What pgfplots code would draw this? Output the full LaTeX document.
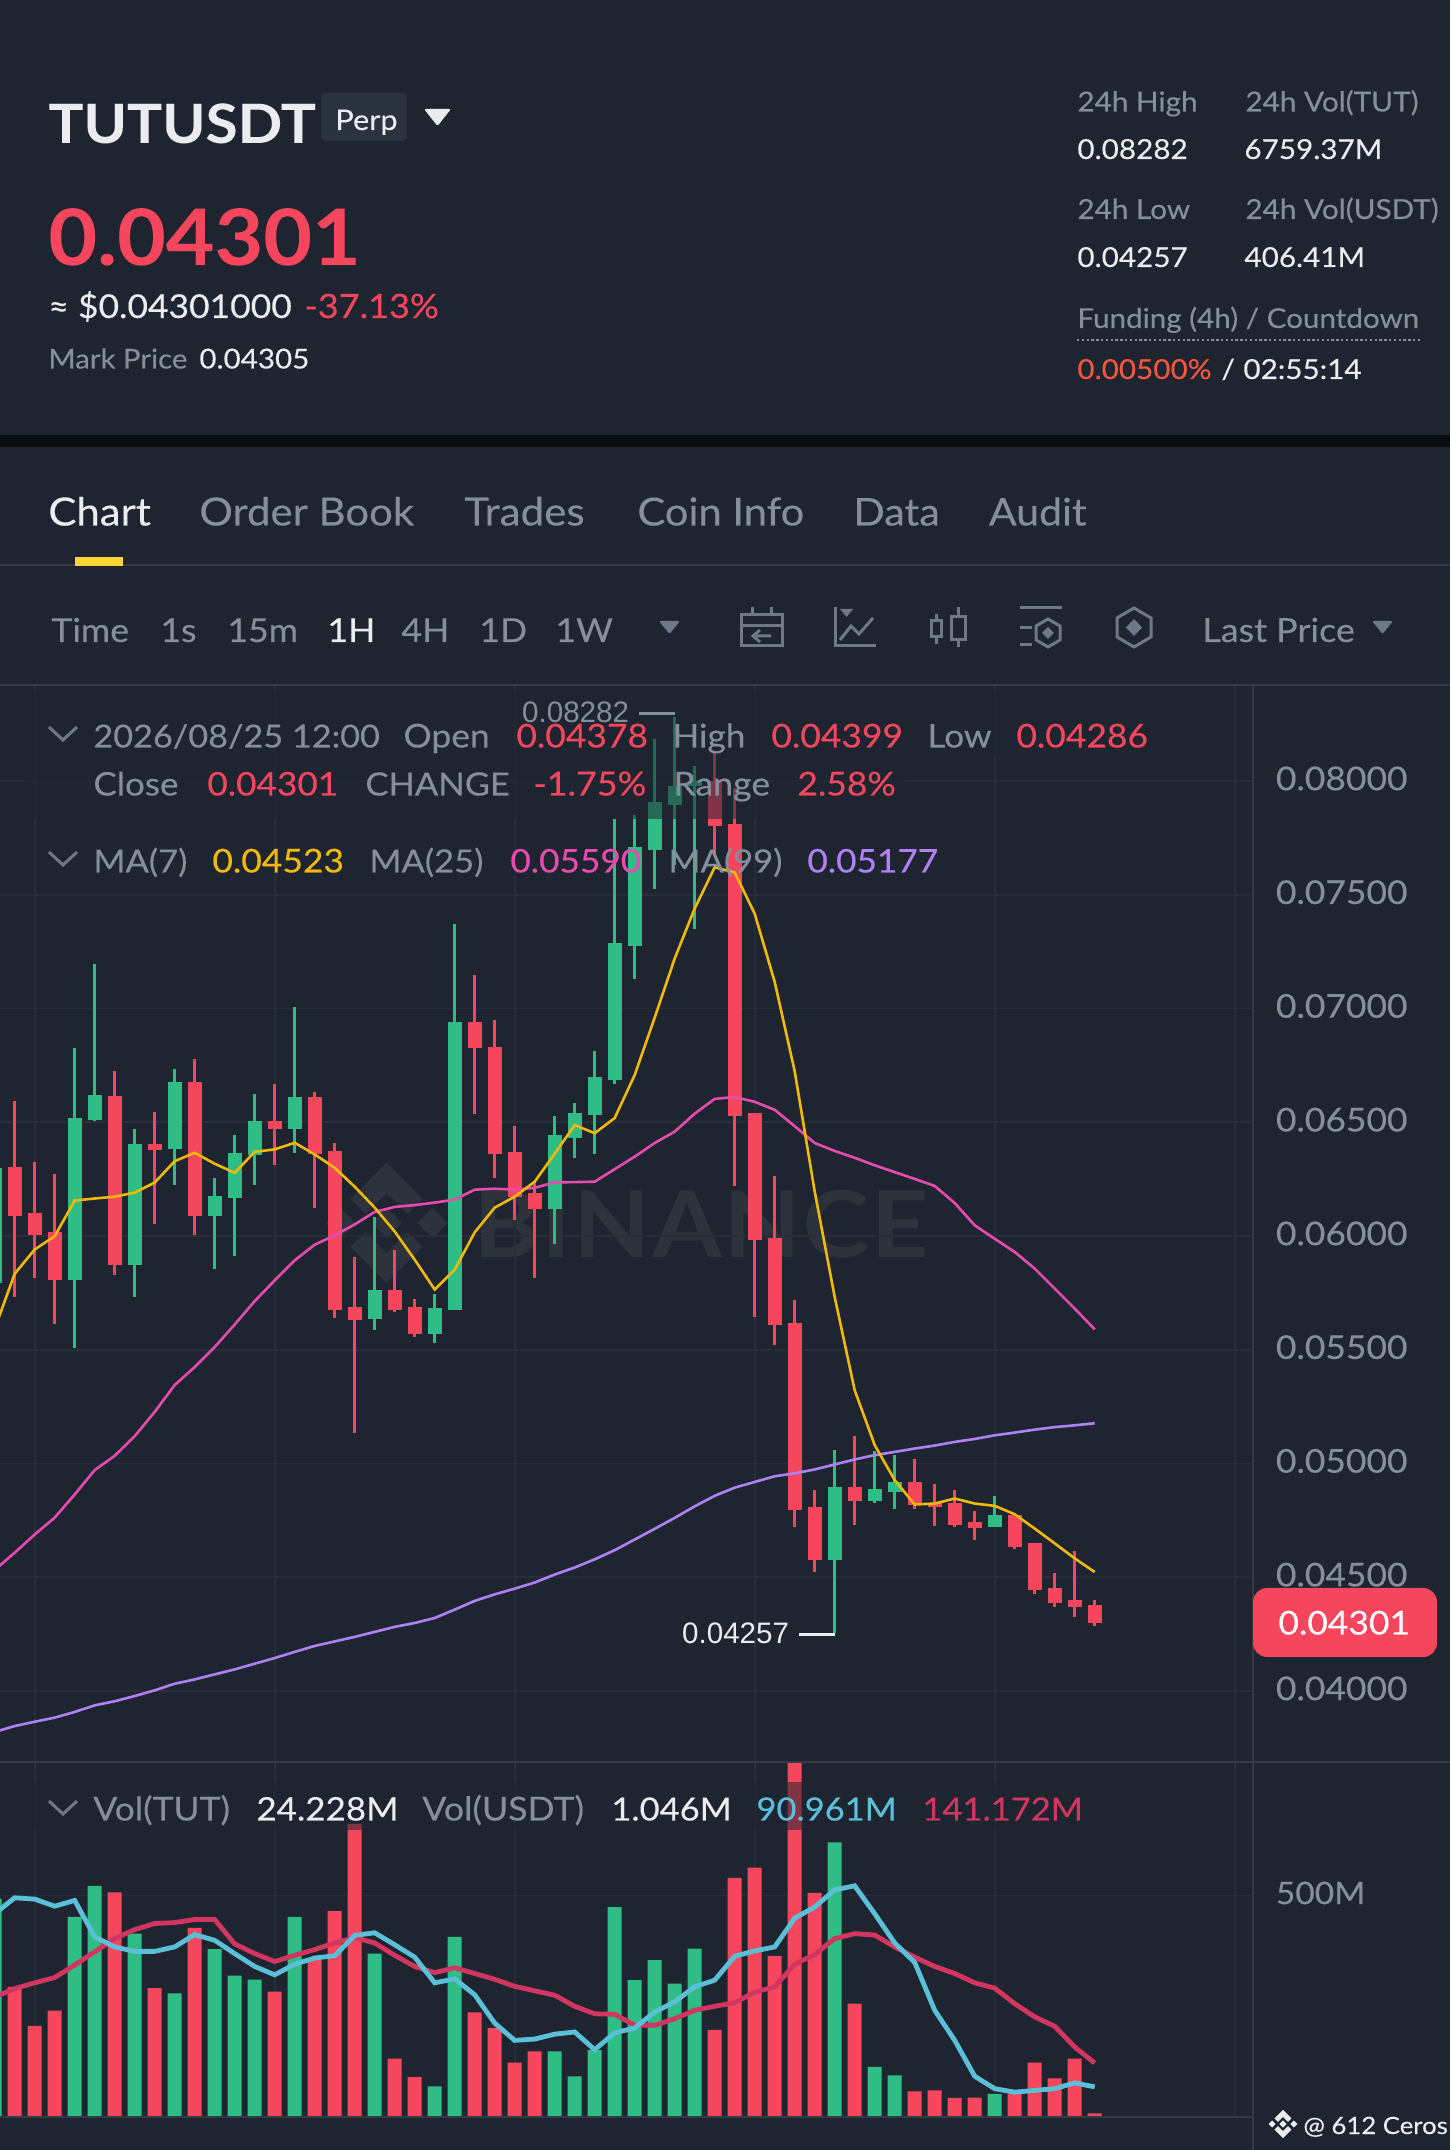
\documentclass[border=0pt]{standalone}
\usepackage{fontspec}
\usepackage{pgfplots}
\usepackage{pgfplotstable}
\pgfplotsset{compat=1.18}
\setmainfont{Lato}[FakeStretch=1.08,FakeBold=0.25,BoldFeatures={FakeBold=0.01}]
\newfontfamily\arialf{Liberation Sans}
\definecolor{bg}{HTML}{1E2530}
\definecolor{gridc}{HTML}{282E39}
\definecolor{linec}{HTML}{343A46}
\definecolor{cred}{HTML}{F6465D}
\definecolor{cgreen}{HTML}{2EBD85}
\definecolor{cgrey}{HTML}{848E9C}
\definecolor{cwhite}{HTML}{EAECEF}
\definecolor{mayel}{HTML}{F0B90B}
\definecolor{mapink}{HTML}{E84BAF}
\definecolor{mapur}{HTML}{B080F5}
\definecolor{volblue}{HTML}{5BBFD8}
\definecolor{volpink}{HTML}{D2355F}
\definecolor{wm}{HTML}{2D323D}
\definecolor{iconc}{HTML}{6F7888}
\definecolor{sepc}{HTML}{0B0E11}
\definecolor{tagc}{HTML}{2B3240}
\definecolor{fund}{HTML}{F6563A}
\definecolor{goldc}{HTML}{FCD535}

\pgfplotstableread{
k H L T B
0 0.06595 0.05732 0.06305 0.06088
1 0.06327 0.05815 0.06101 0.06005
2 0.06272 0.05614 0.06016 0.05808
5 0.06727 0.05830 0.06617 0.05872
7 0.06545 0.06053 0.06403 0.06377
9 0.06779 0.06005 0.06679 0.06088
13 0.06670 0.06313 0.06506 0.06471
15 0.06635 0.06125 0.06611 0.06362
16 0.06410 0.05640 0.06372 0.05673
17 0.05907 0.05135 0.05686 0.05633
19 0.05937 0.05664 0.05762 0.05677
20 0.05725 0.05557 0.05688 0.05568
23 0.07149 0.06536 0.06939 0.06825
24 0.06948 0.06257 0.06832 0.06362
25 0.06485 0.06071 0.06370 0.06173
26 0.06240 0.05817 0.06190 0.06119
35 0.08122 0.07676 0.07999 0.07801
36 0.07968 0.06220 0.07812 0.06527
37 0.06540 0.05644 0.06540 0.05981
38 0.06263 0.05520 0.05992 0.05608
39 0.05720 0.04722 0.05619 0.04795
40 0.04883 0.04524 0.04808 0.04575
42 0.05120 0.04729 0.04897 0.04835
45 0.05022 0.04802 0.04919 0.04817
46 0.04909 0.04726 0.04827 0.04807
47 0.04883 0.04722 0.04827 0.04729
48 0.04791 0.04663 0.04744 0.04717
50 0.04780 0.04624 0.04773 0.04635
51 0.04652 0.04428 0.04649 0.04442
52 0.04517 0.04370 0.04455 0.04385
53 0.04615 0.04326 0.04398 0.04370
54 0.04399 0.04286 0.04378 0.04301
}\redc
\pgfplotstableread{
k H L T B
-1 0.06300 0.05793 0.06300 0.05793
3 0.06827 0.05507 0.06519 0.05808
4 0.07197 0.06504 0.06622 0.06508
6 0.06471 0.05732 0.06403 0.05872
8 0.06735 0.06224 0.06679 0.06381
10 0.06257 0.05856 0.06176 0.06090
11 0.06445 0.05911 0.06364 0.06167
12 0.06626 0.06226 0.06504 0.06355
14 0.07009 0.06366 0.06611 0.06471
18 0.06082 0.05585 0.05762 0.05636
21 0.05747 0.05531 0.05684 0.05568
22 0.07372 0.05673 0.06939 0.05673
27 0.06527 0.05964 0.06444 0.06118
28 0.06585 0.06343 0.06540 0.06433
29 0.06815 0.06359 0.06697 0.06530
30 0.07834 0.06669 0.07286 0.06688
31 0.07849 0.07132 0.07708 0.07273
32 0.08183 0.07525 0.07908 0.07697
33 0.08282 0.07629 0.07980 0.07894
34 0.08067 0.07349 0.07999 0.07979
41 0.05059 0.04257 0.04897 0.04575
43 0.05056 0.04827 0.04890 0.04835
44 0.05037 0.04799 0.04921 0.04877
49 0.04856 0.04722 0.04773 0.04723
}\greenc
\pgfplotstableread{
k y
-1 0.05592
0 0.05834
1 0.05941
2 0.05999
3 0.06156
4 0.06165
5 0.06173
6 0.06191
7 0.06235
8 0.06329
9 0.06366
10 0.06318
11 0.06278
12 0.06370
13 0.06381
14 0.06410
15 0.06359
16 0.06300
17 0.06217
18 0.06125
19 0.06020
20 0.05896
21 0.05765
22 0.05852
23 0.06016
24 0.06125
25 0.06173
26 0.06239
27 0.06362
28 0.06488
29 0.06452
30 0.06519
31 0.06708
32 0.06960
33 0.07220
34 0.07440
35 0.07621
36 0.07598
37 0.07417
38 0.07117
39 0.06724
40 0.06196
41 0.05732
42 0.05322
43 0.05081
44 0.04927
45 0.04820
46 0.04824
47 0.04846
48 0.04824
49 0.04814
50 0.04777
51 0.04714
52 0.04649
53 0.04583
54 0.04523
}\masev
\pgfplotstableread{
k y
-1 0.04532
0 0.04608
1 0.04688
2 0.04762
3 0.04864
4 0.04971
5 0.05034
6 0.05120
7 0.05227
8 0.05345
9 0.05424
10 0.05512
11 0.05611
12 0.05714
13 0.05805
14 0.05893
15 0.05962
16 0.06003
17 0.06051
18 0.06106
19 0.06128
20 0.06136
21 0.06147
22 0.06160
23 0.06204
24 0.06208
25 0.06204
26 0.06212
27 0.06236
28 0.06237
29 0.06239
30 0.06294
31 0.06349
32 0.06409
33 0.06459
34 0.06538
35 0.06603
36 0.06611
37 0.06590
38 0.06555
39 0.06483
40 0.06409
41 0.06374
42 0.06344
43 0.06311
44 0.06281
45 0.06251
46 0.06220
47 0.06145
48 0.06047
49 0.05988
50 0.05930
51 0.05857
52 0.05769
53 0.05681
54 0.05590
}\matwf
\pgfplotstableread{
k y
-1 0.03820
0 0.03846
1 0.03865
2 0.03883
3 0.03908
4 0.03937
5 0.03955
6 0.03978
7 0.04003
8 0.04032
9 0.04051
10 0.04073
11 0.04095
12 0.04120
13 0.04145
14 0.04172
15 0.04198
16 0.04218
17 0.04238
18 0.04260
19 0.04282
20 0.04299
21 0.04321
22 0.04358
23 0.04396
24 0.04425
25 0.04450
26 0.04477
27 0.04512
28 0.04543
29 0.04579
30 0.04619
31 0.04666
32 0.04713
33 0.04761
34 0.04812
35 0.04858
36 0.04894
37 0.04919
38 0.04944
39 0.04957
40 0.04974
41 0.04996
42 0.05018
43 0.05037
44 0.05051
45 0.05066
46 0.05079
47 0.05095
48 0.05108
49 0.05124
50 0.05136
51 0.05149
52 0.05160
53 0.05168
54 0.05177
}\manin
\pgfplotstableread{
k v
0 294
1 206
2 240
5 507
7 291
9 427
13 283
15 354
16 465
17 662
19 132
20 90
23 236
24 201
25 123
26 148
35 197
36 540
37 563
38 364
39 800
40 506
42 256
45 58
46 60
47 43
48 44
50 53
51 123
52 87
53 132
54 8
}\volred
\pgfplotstableread{
k v
-1 493
3 452
4 522
6 414
8 279
10 379
11 319
12 310
14 452
18 369
21 69
22 407
27 148
28 92
29 151
30 474
31 309
32 354
33 301
34 380
41 620
43 113
44 94
49 52
}\volgreen
\pgfplotstableread{
k a b
-1 459 271
0 495 290
1 492 303
2 476 315
3 489 343
4 407 373
5 384 403
6 374 423
7 374 437
8 384 439
9 412 446
10 399 446
11 369 391
12 340 369
13 321 351
14 345 365
15 359 378
16 364 393
17 410 405
18 416 393
19 389 365
20 361 340
21 303 326
22 312 337
23 276 324
24 212 311
25 173 295
26 176 285
27 187 275
28 192 250
29 152 233
30 190 232
31 201 207
32 237 207
33 260 222
34 294 241
35 309 250
36 363 258
37 375 282
38 384 294
39 449 345
40 474 367
41 513 403
42 522 414
43 459 411
44 393 384
45 349 361
46 241 340
47 173 324
48 92 303
49 64 291
50 56 256
51 60 226
52 64 205
53 77 158
54 68 122
}\volma

% baseline text: x y size colour text (px units)
\newcommand\T[5]{\node[anchor=base west,inner sep=0pt,text=#4,font=\fontsize{#3}{#3}\selectfont] at (#1,#2) {#5};}
\newcommand\TB[5]{\node[anchor=base west,inner sep=0pt,text=#4,font=\fontsize{#3}{#3}\selectfont\bfseries] at (#1,#2) {#5};}
\newcommand\TA[5]{\node[anchor=base west,inner sep=0pt,text=#4,font=\arialf\fontsize{#3}{#3}\selectfont] at (#1,#2) {#5};}
\newcommand\binlogo[4]{%
\begin{scope}[shift={(#1,#2)},x=#3*0.5pt,y=-#3*0.5pt]
\fill[#4] (0,-60)--(36,-24)--(21,-9)--(0,-30)--(-21,-9)--(-36,-24)--cycle;
\fill[#4] (0,60)--(36,24)--(21,9)--(0,30)--(-21,9)--(-36,24)--cycle;
\fill[#4] (0,-15)--(15,0)--(0,15)--(-15,0)--cycle;
\fill[#4] (46,-15)--(61,0)--(46,15)--(31,0)--cycle;
\fill[#4] (-46,-15)--(-31,0)--(-46,15)--(-61,0)--cycle;
\end{scope}}

\pgfplotsset{common/.style={
  scale only axis, width=626.25pt,
  xmin=-0.7335, xmax=61.89,
  xtick={1,13,25,37,49,61}, xticklabels={},
  axis line style={draw=none}, major tick length=0pt,
  grid=major, grid style={draw=gridc,line width=0.9pt},
  clip=true,
  yticklabel pos=right,
  every y tick label/.append style={text=cgrey,font=\fontsize{16.4}{16.4}\selectfont,inner sep=0pt,anchor=west,xshift=11.5pt,yshift=1.3pt},
}}

\begin{document}
\begin{tikzpicture}
\fill[bg] (0,0) rectangle (725pt,1075pt);
\useasboundingbox (0,0) rectangle (725pt,1075pt);
\begin{scope}[x=0.5pt,y=-0.5pt,yshift=1075pt]
\fill[sepc] (0,435) rectangle (1450,447);
\draw[linec,line width=1pt] (0,565)--(1450,565);
\draw[linec,line width=1pt] (0,685)--(1450,685);
\fill[goldc] (75,557) rectangle (123,566);
% header
\TB{48}{143}{27.1}{cwhite}{TUTUSDT}
\fill[tagc,rounded corners=2pt] (321,93) rectangle (407,141);
\T{335}{130}{14.2}{cwhite}{Perp}
\fill[cwhite,rounded corners=1pt] (424,109)--(451,109)--(437.5,126)--cycle;
\TB{48}{265}{38.9}{cred}{0.04301}
\T{48}{318}{16.4}{cwhite}{≈ \$0.04301000}
\T{304}{318}{16.7}{cred}{-37.13\%}
\T{48}{368.5}{13.6}{cgrey}{Mark Price}
\T{199}{368.5}{13.7}{cwhite}{0.04305}
% stats
\T{1077}{111.5}{13.75}{cgrey}{24h High}
\T{1245}{111.5}{13.75}{cgrey}{24h Vol(TUT)}
\T{1077}{159}{13.75}{cwhite}{0.08282}
\T{1244}{159}{13.75}{cwhite}{6759.37M}
\T{1077}{219}{13.75}{cgrey}{24h Low}
\T{1245}{219}{13.75}{cgrey}{24h Vol(USDT)}
\T{1077}{267}{13.75}{cwhite}{0.04257}
\T{1244}{267}{13.75}{cwhite}{406.41M}
\T{1077}{328}{13.7}{cgrey}{Funding (4h) / Countdown}
\draw[cgrey,line width=1pt,dash pattern=on 1.2pt off 1.2pt] (1077,340)--(1421,340);
\T{1077}{379}{13.75}{fund}{0.00500\%}
\T{1221}{379}{13.75}{cwhite}{/}
\T{1243}{379}{13.75}{cwhite}{02:55:14}
% tabs
\T{48}{525.5}{19.4}{cwhite}{Chart}
\T{199}{525.5}{19.4}{cgrey}{Order Book}
\T{464}{525.5}{19.5}{cgrey}{Trades}
\T{637}{525.5}{19.3}{cgrey}{Coin Info}
\T{853}{525.5}{19.1}{cgrey}{Data}
\T{988.5}{525.5}{19}{cgrey}{Audit}
% toolbar
\T{51}{642}{16.5}{cgrey}{Time}
\T{160}{642}{16.5}{cgrey}{1s}
\T{227}{642}{16.5}{cgrey}{15m}
\T{327}{642}{16.5}{cwhite}{1H}
\T{401}{642}{16.5}{cgrey}{4H}
\T{479}{642}{16.5}{cgrey}{1D}
\T{555}{642}{16.5}{cgrey}{1W}
\fill[iconc,rounded corners=0.7pt] (659,621)--(680,621)--(669.5,634)--cycle;
\T{1202}{642}{16.6}{cgrey}{Last Price}
\fill[iconc,rounded corners=0.7pt] (1372,621)--(1393,621)--(1382.5,634)--cycle;
\begin{scope}[draw=iconc,line width=1.5pt]
% calendar
\draw (741,615) rectangle (782,646);
\draw (741,626)--(782,626);
\draw (752,607)--(752,615) (771,607)--(771,615);
\draw (771,636)--(753,636) (760,630)--(753,636)--(760,642);
% chart
\draw (835,607)--(835,646)--(876,646);
\draw (840,640)--(851,626)--(859,634)--(873,618);
\fill[iconc] (840,609)--(853,609)--(846.5,617)--cycle;
% candles
\draw (931,621) rectangle (941,637);
\draw (936,614)--(936,621) (936,637)--(936,644);
\draw (951,617) rectangle (965,640);
\draw (958,607)--(958,617) (958,640)--(958,647);
% depth
\draw (1020,608)--(1062,608);
\draw (1020,628)--(1032,628) (1020,645)--(1032,645);
\draw (1048,619)--(1060,626)--(1060,640)--(1048,647)--(1036,640)--(1036,626)--cycle;
\fill[iconc] (1048,627)--(1054,633)--(1048,639)--(1042,633)--cycle;
% hex
\draw (1134,608)--(1151,618)--(1151,637)--(1134,647)--(1117,637)--(1117,618)--cycle;
\fill[iconc] (1134,619)--(1142,627.5)--(1134,636)--(1126,627.5)--cycle;
\end{scope}
% watermark
\binlogo{386.7}{1223}{1}{wm}
\node[anchor=base west,inner sep=0pt,text=wm,font=\fontsize{46}{46}\selectfont\bfseries\addfontfeature{LetterSpace=2.7}] at (473,1257) {BINANCE};
\end{scope}

% ---------- price panel
\begin{axis}[common, at={(0pt,194pt)}, anchor=south west, height=538pt,
  ymin=0.03688, ymax=0.08418,
  ytick={0.04,0.045,0.05,0.055,0.06,0.065,0.07,0.075,0.08},
  scaled y ticks=false,
  yticklabel style={/pgf/number format/.cd,fixed,fixed zerofill,precision=5,assume math mode=true},
]
\addplot[draw=none,mark=none,forget plot,error bars/.cd,y dir=plus,y explicit,error mark=none,error bar style={draw=cred,line width=1.33pt}]
  table[x=k,y=L,y error expr=\thisrow{H}-\thisrow{L}] {\redc};
\addplot[draw=none,mark=none,forget plot,error bars/.cd,y dir=plus,y explicit,error mark=none,error bar style={draw=cgreen,line width=1.33pt}]
  table[x=k,y=L,y error expr=\thisrow{H}-\thisrow{L}] {\greenc};
\addplot[draw=none,mark=none,forget plot,error bars/.cd,y dir=plus,y explicit,error mark=none,error bar style={draw=cred,line width=7pt}]
  table[x=k,y=B,y error expr=\thisrow{T}-\thisrow{B}] {\redc};
\addplot[draw=none,mark=none,forget plot,error bars/.cd,y dir=plus,y explicit,error mark=none,error bar style={draw=cgreen,line width=7pt}]
  table[x=k,y=B,y error expr=\thisrow{T}-\thisrow{B}] {\greenc};
\addplot[mapur,line width=1.3pt,no marks] table[x=k,y=y] {\manin};
\addplot[mapink,line width=1.3pt,no marks] table[x=k,y=y] {\matwf};
\addplot[mayel,line width=1.3pt,no marks] table[x=k,y=y] {\masev};
\end{axis}

% ---------- volume panel
\begin{axis}[common, at={(0pt,16.5pt)}, anchor=south west, height=177pt,
  ymin=0, ymax=799.4, ytick={500}, yticklabels={500M},
  every y tick label/.append style={font=\fontsize{15.5}{15.5}\selectfont},
]
\addplot[ybar,bar width=7pt,bar shift=0pt,fill=cred,draw=none,forget plot] table[x=k,y=v] {\volred};
\addplot[ybar,bar width=7pt,bar shift=0pt,fill=cgreen,draw=none,forget plot] table[x=k,y=v] {\volgreen};
\addplot[volpink,line width=2.4pt,no marks] table[x=k,y=b] {\volma};
\addplot[volblue,line width=2.4pt,no marks] table[x=k,y=a] {\volma};
\end{axis}

\begin{scope}[x=0.5pt,y=-0.5pt,yshift=1075pt]
% panel rules
\draw[linec,line width=1pt] (0,1762)--(1450,1762);
\draw[linec,line width=1pt] (0,2117)--(1252.5,2117);
\draw[linec,line width=1pt] (1252.5,686)--(1252.5,2150);
% dimming behind legend rows
\fill[bg,opacity=0.55] (25,690) rectangle (1160,757);
\fill[bg,opacity=0.55] (25,757) rectangle (905,819);
\fill[bg,opacity=0.55] (25,1782) rectangle (1095,1830);
% high / low markers
\TA{521.7}{723}{14.8}{cgrey}{0.08282}
\draw[cgrey,line width=1.5pt] (639,714)--(675,714);
\TA{681.7}{1644}{14.8}{cwhite}{0.04257}
\draw[cwhite,line width=1.5pt] (799,1635)--(835,1635);
% legend rows
\draw[iconc,line width=1.5pt] (49,727)--(63,740)--(77,727);
\draw[iconc,line width=1.5pt] (49,852)--(63,865)--(77,852);
\draw[iconc,line width=1.5pt] (49,1801)--(63,1814)--(77,1801);
\T{93}{747.5}{15.85}{cgrey}{2026/08/25 12:00}
\T{403}{747.5}{16.4}{cgrey}{Open}
\T{516}{747.5}{16.4}{cred}{0.04378}
\T{672}{747.5}{16.3}{cgrey}{High}
\T{771}{747.5}{16.4}{cred}{0.04399}
\T{927}{747.5}{16.3}{cgrey}{Low}
\T{1016}{747.5}{16.4}{cred}{0.04286}
\T{93}{795.5}{16.2}{cgrey}{Close}
\T{207}{795.5}{16.3}{cred}{0.04301}
\T{365}{795.5}{16}{cgrey}{CHANGE}
\T{533}{795.5}{16.6}{cred}{-1.75\%}
\T{673}{795.5}{16.5}{cgrey}{Range}
\T{797}{795.5}{16.4}{cred}{2.58\%}
\T{93}{872.5}{16}{cgrey}{MA(7)}
\T{212}{872.5}{16.4}{mayel}{0.04523}
\T{369}{872.5}{16}{cgrey}{MA(25)}
\T{510}{872.5}{16.3}{mapink}{0.05590}
\T{668}{872.5}{16}{cgrey}{MA(99)}
\T{807}{872.5}{16.3}{mapur}{0.05177}
\T{93}{1820.5}{16.4}{cgrey}{Vol(TUT)}
\T{256}{1820.5}{16.2}{cwhite}{24.228M}
\T{422}{1820.5}{16.5}{cgrey}{Vol(USDT)}
\T{611}{1820.5}{16}{cwhite}{1.046M}
\T{756}{1820.5}{16}{volblue}{90.961M}
\T{922}{1820.5}{16}{volpink}{141.172M}
% price tag
\fill[cred,rounded corners=7pt] (1253,1588) rectangle (1437,1657);
\T{1278}{1634.5}{16.4}{white}{0.04301}
% attribution
\binlogo{1283}{2124}{0.235}{cwhite}
\T{1303}{2134}{11.9}{cwhite}{@ 612 Ceros}
\end{scope}
\end{tikzpicture}
\end{document}
